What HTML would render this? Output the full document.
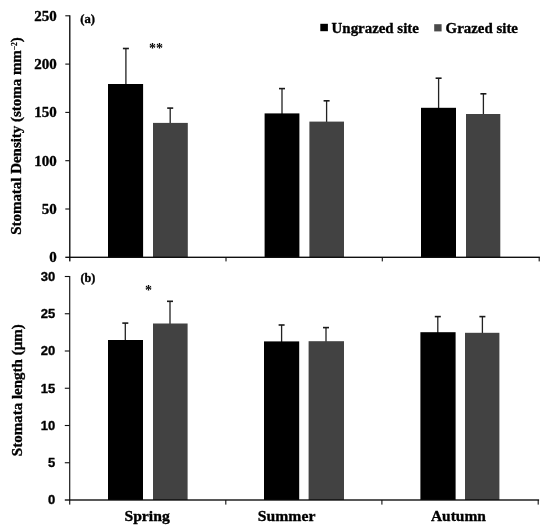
<!DOCTYPE html>
<html><head><meta charset="utf-8"><title>Stomatal density and length</title>
<style>
html,body{margin:0;padding:0;background:#fff;}
svg{display:block;}
text{fill:#000;stroke:#000;stroke-width:0.35px;stroke-linejoin:round;}
</style></head>
<body>
<svg width="550" height="532" viewBox="0 0 550 532">
<rect width="550" height="532" fill="#fff"/>
<rect x="125.25" y="48.50" width="1.30" height="36.00" fill="#222"/>
<rect x="122.90" y="47.70" width="6.00" height="1.60" fill="#1a1a1a"/>
<rect x="169.55" y="108.10" width="1.30" height="15.40" fill="#222"/>
<rect x="167.20" y="107.30" width="6.00" height="1.60" fill="#1a1a1a"/>
<rect x="281.35" y="88.60" width="1.30" height="25.40" fill="#222"/>
<rect x="279.00" y="87.80" width="6.00" height="1.60" fill="#1a1a1a"/>
<rect x="325.95" y="100.80" width="1.30" height="21.20" fill="#222"/>
<rect x="323.60" y="100.00" width="6.00" height="1.60" fill="#1a1a1a"/>
<rect x="437.95" y="78.20" width="1.30" height="30.30" fill="#222"/>
<rect x="435.60" y="77.40" width="6.00" height="1.60" fill="#1a1a1a"/>
<rect x="482.75" y="93.80" width="1.30" height="20.70" fill="#222"/>
<rect x="480.40" y="93.00" width="6.00" height="1.60" fill="#1a1a1a"/>
<rect x="108.00" y="84.00" width="35.10" height="173.30" fill="#000"/>
<rect x="153.00" y="122.90" width="34.80" height="134.40" fill="#424242"/>
<rect x="264.60" y="113.40" width="34.80" height="143.90" fill="#000"/>
<rect x="309.40" y="121.60" width="34.60" height="135.70" fill="#424242"/>
<rect x="421.00" y="107.80" width="35.00" height="149.50" fill="#000"/>
<rect x="466.00" y="114.00" width="34.30" height="143.30" fill="#424242"/>
<rect x="69.15" y="15.30" width="1.30" height="246.10" fill="#000"/>
<rect x="65.30" y="256.62" width="474.60" height="1.35" fill="#0a0a0a"/>
<rect x="65.30" y="208.45" width="4.50" height="1.10" fill="#111"/>
<rect x="65.30" y="160.15" width="4.50" height="1.10" fill="#111"/>
<rect x="65.30" y="111.85" width="4.50" height="1.10" fill="#111"/>
<rect x="65.30" y="63.55" width="4.50" height="1.10" fill="#111"/>
<rect x="65.30" y="15.25" width="4.50" height="1.10" fill="#111"/>
<rect x="225.45" y="257.30" width="1.10" height="4.10" fill="#111"/>
<rect x="381.75" y="257.30" width="1.10" height="4.10" fill="#111"/>
<rect x="538.65" y="257.30" width="1.10" height="4.10" fill="#111"/>
<rect x="124.65" y="323.10" width="1.30" height="17.40" fill="#222"/>
<rect x="122.30" y="322.30" width="6.00" height="1.60" fill="#1a1a1a"/>
<rect x="169.35" y="301.30" width="1.30" height="22.70" fill="#222"/>
<rect x="167.00" y="300.50" width="6.00" height="1.60" fill="#1a1a1a"/>
<rect x="280.95" y="325.00" width="1.30" height="17.00" fill="#222"/>
<rect x="278.60" y="324.20" width="6.00" height="1.60" fill="#1a1a1a"/>
<rect x="325.35" y="327.60" width="1.30" height="14.40" fill="#222"/>
<rect x="323.00" y="326.80" width="6.00" height="1.60" fill="#1a1a1a"/>
<rect x="437.15" y="316.60" width="1.30" height="16.40" fill="#222"/>
<rect x="434.80" y="315.80" width="6.00" height="1.60" fill="#1a1a1a"/>
<rect x="481.75" y="316.60" width="1.30" height="16.90" fill="#222"/>
<rect x="479.40" y="315.80" width="6.00" height="1.60" fill="#1a1a1a"/>
<rect x="108.00" y="340.00" width="35.00" height="160.00" fill="#000"/>
<rect x="153.00" y="323.50" width="34.60" height="176.50" fill="#424242"/>
<rect x="264.00" y="341.40" width="35.20" height="158.60" fill="#000"/>
<rect x="308.60" y="341.20" width="35.40" height="158.80" fill="#424242"/>
<rect x="420.40" y="332.20" width="35.20" height="167.80" fill="#000"/>
<rect x="465.00" y="332.80" width="34.40" height="167.20" fill="#424242"/>
<rect x="69.10" y="276.00" width="1.20" height="228.60" fill="#1a1a1a"/>
<rect x="64.80" y="499.32" width="474.30" height="1.35" fill="#0a0a0a"/>
<rect x="64.80" y="462.20" width="4.90" height="1.10" fill="#111"/>
<rect x="64.80" y="424.95" width="4.90" height="1.10" fill="#111"/>
<rect x="64.80" y="387.70" width="4.90" height="1.10" fill="#111"/>
<rect x="64.80" y="350.45" width="4.90" height="1.10" fill="#111"/>
<rect x="64.80" y="313.20" width="4.90" height="1.10" fill="#111"/>
<rect x="64.80" y="275.95" width="4.90" height="1.10" fill="#111"/>
<rect x="225.25" y="500.00" width="1.10" height="4.60" fill="#111"/>
<rect x="381.35" y="500.00" width="1.10" height="4.60" fill="#111"/>
<rect x="537.65" y="500.00" width="1.10" height="4.60" fill="#111"/>
<rect x="320.30" y="23.80" width="7.60" height="7.40" fill="#000"/>
<rect x="434.20" y="24.20" width="7.40" height="7.20" fill="#4a4a4a"/>
<text x="56.7" y="262.2" font-family='"Liberation Serif", serif' font-weight="bold" font-size="15" text-anchor="end" >0</text>
<text x="56.7" y="213.9" font-family='"Liberation Serif", serif' font-weight="bold" font-size="15" text-anchor="end" >50</text>
<text x="56.7" y="165.6" font-family='"Liberation Serif", serif' font-weight="bold" font-size="15" text-anchor="end" >100</text>
<text x="56.7" y="117.3" font-family='"Liberation Serif", serif' font-weight="bold" font-size="15" text-anchor="end" >150</text>
<text x="56.7" y="69.0" font-family='"Liberation Serif", serif' font-weight="bold" font-size="15" text-anchor="end" >200</text>
<text x="56.7" y="20.7" font-family='"Liberation Serif", serif' font-weight="bold" font-size="15" text-anchor="end" >250</text>
<text x="55.3" y="504.4" font-family='"Liberation Sans", sans-serif' font-weight="bold" font-size="13" text-anchor="end" >0</text>
<text x="55.3" y="467.15" font-family='"Liberation Sans", sans-serif' font-weight="bold" font-size="13" text-anchor="end" >5</text>
<text x="55.3" y="429.9" font-family='"Liberation Sans", sans-serif' font-weight="bold" font-size="13" text-anchor="end" >10</text>
<text x="55.3" y="392.65" font-family='"Liberation Sans", sans-serif' font-weight="bold" font-size="13" text-anchor="end" >15</text>
<text x="55.3" y="355.4" font-family='"Liberation Sans", sans-serif' font-weight="bold" font-size="13" text-anchor="end" >20</text>
<text x="55.3" y="318.15" font-family='"Liberation Sans", sans-serif' font-weight="bold" font-size="13" text-anchor="end" >25</text>
<text x="55.3" y="280.9" font-family='"Liberation Sans", sans-serif' font-weight="bold" font-size="13" text-anchor="end" >30</text>
<text x="80.3" y="22.75" font-family='"Liberation Serif", serif' font-weight="bold" font-size="12.6" text-anchor="start" >(a)</text>
<text x="80.4" y="281.7" font-family='"Liberation Serif", serif' font-weight="bold" font-size="12.2" text-anchor="start" >(b)</text>
<text x="148.9" y="52.6" font-family='"Liberation Serif", serif' font-weight="bold" font-size="14" text-anchor="start" style="stroke-width:0">**</text>
<text x="145.1" y="295" font-family='"Liberation Serif", serif' font-weight="bold" font-size="14" text-anchor="start" style="stroke-width:0">*</text>
<text x="331.6" y="32.9" font-family='"Liberation Serif", serif' font-weight="bold" font-size="14.9" text-anchor="start" >Ungrazed site</text>
<text x="445.6" y="32.9" font-family='"Liberation Serif", serif' font-weight="bold" font-size="14.9" text-anchor="start" >Grazed site</text>
<text x="147.1" y="520.7" font-family='"Liberation Serif", serif' font-weight="bold" font-size="15.3" text-anchor="middle" textLength="45.3" lengthAdjust="spacingAndGlyphs">Spring</text>
<text x="286.6" y="520.7" font-family='"Liberation Serif", serif' font-weight="bold" font-size="15.3" text-anchor="middle" textLength="57.6" lengthAdjust="spacingAndGlyphs">Summer</text>
<text x="458.4" y="520.7" font-family='"Liberation Serif", serif' font-weight="bold" font-size="15.3" text-anchor="middle" textLength="55" lengthAdjust="spacingAndGlyphs">Autumn</text>
<text transform="translate(21.3,136) rotate(-90)" font-family='"Liberation Serif", serif' font-weight="bold" font-size="14.95" text-anchor="middle">Stomatal Density (stoma mm<tspan font-size="7.5" dy="-4.6" stroke-width="0.2">−2</tspan><tspan dy="4.6">)</tspan></text>
<text transform="translate(21.6,390.2) rotate(-90)" font-family='"Liberation Serif", serif' font-weight="bold" font-size="15" text-anchor="middle">Stomata length (µm)</text>
</svg>
</body></html>
